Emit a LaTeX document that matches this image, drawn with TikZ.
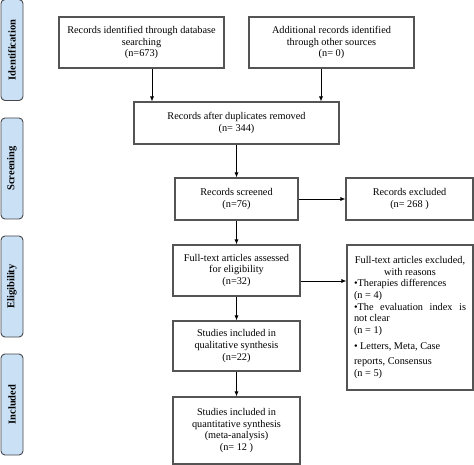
\documentclass[tikz,border=0pt]{standalone}
\usepackage{fontspec}
\setmainfont{Liberation Serif}
\usepackage{xcolor}
\definecolor{StageFill}{rgb}{0.79, 0.88, 0.96}
\definecolor{StageDraw}{rgb}{0.28, 0.28, 0.30}
\definecolor{BoxDraw}{rgb}{0.33, 0.33, 0.33}
\usetikzlibrary{arrows.meta}

\begin{document}
\begin{tikzpicture}[x=1pt, y=-1pt,
	Stage/.style={draw=StageDraw, fill=StageFill, rounded corners=4pt, line width=0.9pt, rotate=90, minimum width=101pt, minimum height=22pt, inner sep=0pt, font=\fontsize{10.5}{12}\selectfont\bfseries},
	Box/.style={draw=BoxDraw, line width=1.1pt, align=center, inner sep=2pt, font=\fontsize{10.3}{11.7}\selectfont},
	Flow/.style={-{Latex[length=5pt,width=4pt]}, line width=0.7pt}]
	\useasboundingbox (0,0) rectangle (474,465);
	% stages
	\node[Stage] (identification) at (12,50) {Identification};
	\node[Stage] (screening) at (12,168.5) {Screening};
	\node[Stage] (eligibility) at (12,286.5) {Eligibility};
	\node[Stage] (included) at (12,404.5) {Included};
	% boxes
	\node[Box, minimum width=165pt, minimum height=51pt] (dbsearch) at (141.5,42.5) {Records identified through database\\searching\\(n=673)};
	\node[Box, minimum width=165pt, minimum height=51pt] (othersrc) at (331.5,42.5) {Additional records identified\\through other sources\\(n= 0)};
	\node[Box, minimum width=205pt, minimum height=42pt] (dedup) at (236.5,123) {Records after duplicates removed\\(n= 344)};
	\node[Box, minimum width=123pt, minimum height=42pt] (screened) at (236.5,199) {Records screened\\(n=76)};
	\node[Box, minimum width=127pt, minimum height=42pt] (excluded) at (409.5,199) {Records excluded\\(n= 268 )};
	\node[Box, minimum width=127pt, minimum height=51pt] (fulltext) at (236.5,270.5) {Full-text articles assessed\\for eligibility\\(n=32)};
	\node[Box, minimum width=126pt, minimum height=145pt, align=left] (reasons) at (410,317.5) {\makebox[112pt][c]{Full-text articles excluded,}\\\makebox[112pt][c]{with reasons}\\•Therapies differences\\(n = 4)\\\makebox[112pt][s]{•The evaluation index is}\\not clear\\(n = 1)\\[4pt]• Letters, Meta, Case\\[4pt]reports, Consensus\\(n = 5)};
	\node[Box, minimum width=127pt, minimum height=50pt] (qualitative) at (236.5,346) {Studies included in\\qualitative synthesis\\(n=22)};
	\node[Box, minimum width=127pt, minimum height=67pt] (quantitative) at (236.5,430.5) {Studies included in\\quantitative synthesis\\(meta-analysis)\\(n= 12 )};
	% arrows
	\draw[Flow] ([xshift=10.5pt]dbsearch.south) -- ([xshift=10.5pt]dbsearch.south |- dedup.north);
	\draw[Flow] ([xshift=-10.5pt]othersrc.south) -- ([xshift=-10.5pt]othersrc.south |- dedup.north);
	\draw[Flow] (dedup) -- (screened);
	\draw[Flow] (screened) -- (excluded);
	\draw[Flow] (screened) -- (fulltext);
	\draw[Flow] ([yshift=-10.5pt]fulltext.east) -- ([yshift=-10.5pt]fulltext.east -| reasons.west);
	\draw[Flow] (fulltext) -- (qualitative);
	\draw[Flow] (qualitative) -- (quantitative);
\end{tikzpicture}
\end{document}
